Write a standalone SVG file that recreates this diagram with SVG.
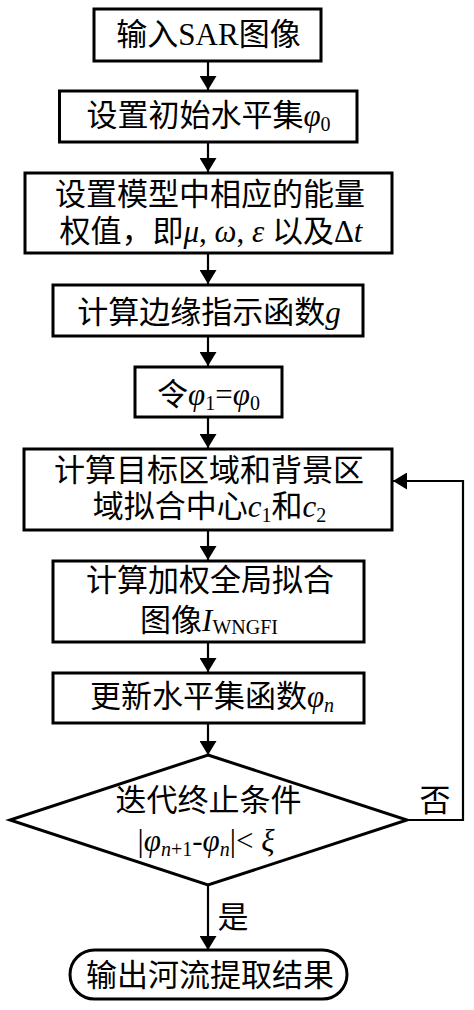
<svg xmlns="http://www.w3.org/2000/svg" width="474" height="1010" viewBox="0 0 474 1010">
<style>
.box{fill:#fff;stroke:#000;stroke-width:3}
.ln{fill:none;stroke:#000;stroke-width:2.2}
text{font-family:"Liberation Serif","Noto Sans CJK SC",serif;font-size:31px;fill:#000;text-anchor:middle}
.i{font-style:italic}
.s{font-size:20px}
</style>
<defs>
<marker id="ah" markerUnits="userSpaceOnUse" viewBox="0 0 14 17" refX="14" refY="8.5" markerWidth="14" markerHeight="17" orient="auto">
<path d="M0,0 L14,8.5 L0,17 z" fill="#000"/>
</marker>
</defs>
<rect width="474" height="1010" fill="#fff"/>
<g id="connectors">
<line class="ln" x1="208" y1="61" x2="208" y2="90" marker-end="url(#ah)"/>
<line class="ln" x1="208" y1="142" x2="208" y2="172" marker-end="url(#ah)"/>
<line class="ln" x1="208" y1="253" x2="208" y2="284" marker-end="url(#ah)"/>
<line class="ln" x1="208" y1="336" x2="208" y2="366" marker-end="url(#ah)"/>
<line class="ln" x1="208" y1="417" x2="208" y2="448" marker-end="url(#ah)"/>
<line class="ln" x1="208" y1="530" x2="208" y2="560" marker-end="url(#ah)"/>
<line class="ln" x1="208" y1="642" x2="208" y2="672" marker-end="url(#ah)"/>
<line class="ln" x1="208" y1="723" x2="208" y2="755" marker-end="url(#ah)"/>
<line class="ln" x1="208" y1="885" x2="208" y2="950" marker-end="url(#ah)"/>
<polyline class="ln" points="407,820 463,820 463,481 393,481" marker-end="url(#ah)"/>
<text x="435" y="811">否</text>
<text x="233" y="928">是</text>
</g>
<g id="n1">
<rect class="box" x="94" y="9" width="227" height="52"/>
<text x="208.5" y="45">输入SAR图像</text>
</g>
<g id="n2">
<rect class="box" x="59.5" y="91" width="297.5" height="51"/>
<text x="208.5" y="126">设置初始水平集<tspan class="i">φ</tspan><tspan class="s" dy="5">0</tspan></text>
</g>
<g id="n3">
<rect class="box" x="25" y="173" width="367" height="80"/>
<text x="210" y="205">设置模型中相应的能量</text>
<text x="211" y="242">权值，即<tspan class="i">μ</tspan>, <tspan class="i">ω</tspan>, <tspan class="i">ε</tspan> 以及Δ<tspan class="i">t</tspan></text>
</g>
<g id="n4">
<rect class="box" x="53" y="285" width="310" height="51"/>
<text x="209" y="323">计算边缘指示函数<tspan class="i">g</tspan></text>
</g>
<g id="n5">
<rect class="box" x="135" y="367" width="147" height="50"/>
<text x="208.5" y="405">令<tspan class="i">φ</tspan><tspan class="s" dy="5">1</tspan><tspan dy="-5">=</tspan><tspan class="i">φ</tspan><tspan class="s" dy="5">0</tspan></text>
</g>
<g id="n6">
<rect class="box" x="24" y="449" width="368" height="81"/>
<text x="209" y="481">计算目标区域和背景区</text>
<text x="209.5" y="517">域拟合中心<tspan class="i">c</tspan><tspan class="s" dy="5">1</tspan><tspan dy="-5">和</tspan><tspan class="i">c</tspan><tspan class="s" dy="5">2</tspan></text>
</g>
<g id="n7">
<rect class="box" x="53" y="561" width="311" height="81"/>
<text x="210" y="591">计算加权全局拟合</text>
<text x="209" y="631">图像<tspan class="i">I</tspan><tspan class="s" dy="3">WNGFI</tspan></text>
</g>
<g id="n8">
<rect class="box" x="53" y="673" width="311" height="50"/>
<text x="212" y="707">更新水平集函数<tspan class="i">φ</tspan><tspan class="s i" dy="5">n</tspan></text>
</g>
<g id="n9">
<polygon class="box" points="208,755 407,820 208,885 10,820"/>
<text x="208.5" y="811">迭代终止条件</text>
<text x="206" y="851">|<tspan class="i">φ</tspan><tspan class="s" dy="5"><tspan class="i">n</tspan>+1</tspan><tspan dy="-5">-</tspan><tspan class="i">φ</tspan><tspan class="s i" dy="5">n</tspan><tspan dy="-5">|&lt; </tspan><tspan class="i">ξ</tspan></text>
</g>
<g id="n10">
<rect class="box" x="70" y="950" width="277" height="49" rx="24.5" ry="24.5"/>
<text x="210" y="986">输出河流提取结果</text>
</g>
</svg>
